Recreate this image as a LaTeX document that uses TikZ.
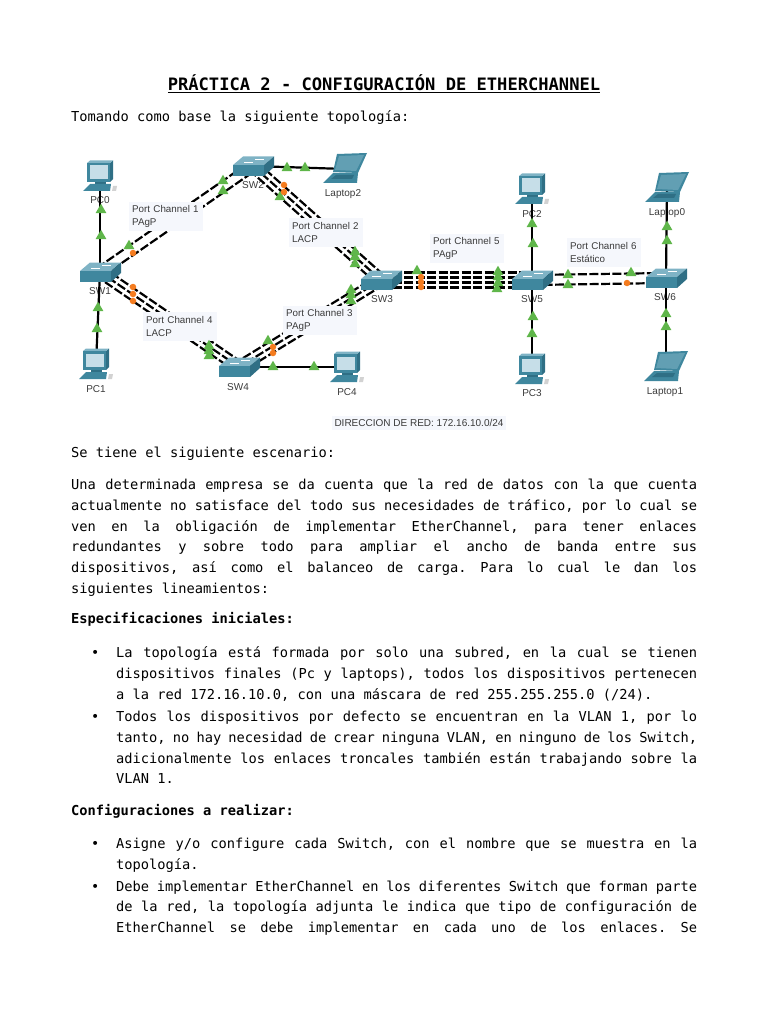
\documentclass[tikz,border=0pt]{standalone}
\usepackage{fontspec}
\setmainfont{Liberation Sans}
\newfontfamily\pagefont{DejaVu Sans Mono}
\usetikzlibrary{calc,shapes.geometric}
\definecolor{teal1}{HTML}{3F879E}
\definecolor{teal2}{HTML}{2F6F85}
\definecolor{teal3}{HTML}{7FB3C5}
\definecolor{teal4}{HTML}{629FB3}
\definecolor{screen1}{HTML}{C6DEE8}
\definecolor{lightgreen1}{HTML}{5FB64A}
\definecolor{lightorange1}{HTML}{F57C1F}
\definecolor{notefill}{HTML}{F5F7FC}
\definecolor{labeltext}{HTML}{3A3A3A}
\tikzset{
  textline/.style={anchor=base west,inner sep=0pt,yshift=-1pt,font=\pagefont\fontsize{13.7}{16}\selectfont},
  headline/.style={textline,font=\pagefont\bfseries\fontsize{13.7}{16}\selectfont},
  devlabel/.style={inner sep=0pt,text=labeltext,font=\fontsize{10}{12}\selectfont},
  notebox/.style={fill=notefill,anchor=north west,align=left,inner xsep=3pt,inner ysep=0pt,text=labeltext,
    minimum height=29pt,font=\fontsize{9.8}{12.6}\selectfont,text width=68pt},
  cable/.style={line width=2.2pt,black},
  trunk/.style={line width=2.2pt,black,dash pattern=on 9pt off 2.5pt},
  uplight/.style={regular polygon,regular polygon sides=3,fill=lightgreen1,minimum size=12.5pt,inner sep=0pt},
  waitlight/.style={circle,fill=lightorange1,minimum size=6.5pt,inner sep=0pt},
  pcicon/.pic={
    \fill[teal2] (10,-13) -- (13,-15.5) -- (13,3) -- (10,6) -- cycle;
    \fill[teal3] (-13,-13) -- (-10,-15.5) -- (13,-15.5) -- (10,-13) -- cycle;
    \fill[teal1] (-13,-13) rectangle (10,6);
    \fill[screen1] (-10,-10.5) rectangle (8,3);
    \fill[teal2] (-5,6) rectangle (6,8);
    \fill[teal1] (-10,8) -- (11,8) -- (10,15) -- (-17,15) -- cycle;
    \fill[gray!35] (13,10) -- (17,10) -- (16,15) -- (12,15) -- cycle;
  },
  laptopicon/.pic={
    \fill[teal1] (-8,-15) -- (22,-16) -- (13,4) -- (-12,3) -- cycle;
    \fill[teal4] (-6,-13) -- (19,-14) -- (11,2) -- (-10,1) -- cycle;
    \fill[teal1] (-12,4) -- (13,4) -- (12,14) -- (-22,14) -- cycle;
    \fill[teal2] (-9,6) -- (9,6) -- (7,10) -- (-14,10) -- cycle;
  },
  switchicon/.pic={
    \fill[teal3] (-20,-1) -- (-10,-9.5) -- (21,-9.5) -- (11,-1) -- cycle;
    \fill[teal1] (-20,-1) rectangle (11,10);
    \fill[teal2] (11,-1) -- (21,-9.5) -- (21,1) -- (11,10) -- cycle;
    \draw[white,line width=.5pt] (-9,-4) -- (0,-4) (2,-6.5) -- (11,-6.5);
  }
}
\newcommand{\trunklinks}[3]{%
  \foreach \o in {#3}
    \draw[trunk] ($(#1)!\o pt!90:(#2)$) -- ($(#2)!\o pt!-90:(#1)$);
}
\newcommand{\fitline}[2]{\hbox to #1{\frenchspacing\spaceskip=8.2pt plus 1fil minus 2pt\relax #2}}

\begin{document}
\begin{tikzpicture}[x=1pt,y=-1pt]
  \useasboundingbox (0,0) rectangle (768,1024);

  % page text
  \node[anchor=base,inner sep=0pt,font=\pagefont\bfseries\fontsize{17.1}{20}\selectfont] (title) at (384,91)
    {\underline{PRÁCTICA 2 - CONFIGURACIÓN DE ETHERCHANNEL}};
  \node[textline] (intro) at (71,121) {Tomando como base la siguiente topología:};
  \node[textline] (escenario) at (71,456) {Se tiene el siguiente escenario:};
  \node[textline] (p1) at (71,488) {\fitline{626pt}{Una determinada empresa se da cuenta que la red de datos con la que cuenta}};
  \node[textline] (p2) at (71,509) {\fitline{626pt}{actualmente no satisface del todo sus necesidades de tráfico, por lo cual se}};
  \node[textline] (p3) at (71,530) {\fitline{626pt}{ven en la obligación de implementar EtherChannel, para tener enlaces}};
  \node[textline] (p4) at (71,550) {\fitline{626pt}{redundantes y sobre todo para ampliar el ancho de banda entre sus}};
  \node[textline] (p5) at (71,571) {\fitline{626pt}{dispositivos, así como el balanceo de carga. Para lo cual le dan los}};
  \node[textline] (p6) at (71,592) {siguientes lineamientos:};
  \node[headline] (espec) at (71,622) {Especificaciones iniciales:};
  \node[textline] (dot1) at (91,656) {•};
  \node[textline] (e1) at (116,656) {\fitline{581pt}{La topología está formada por solo una subred, en la cual se tienen}};
  \node[textline] (e2) at (116,677) {\fitline{581pt}{dispositivos finales (Pc y laptops), todos los dispositivos pertenecen}};
  \node[textline] (e3) at (116,698) {a la red 172.16.10.0, con una máscara de red 255.255.255.0 (/24).};
  \node[textline] (dot2) at (91,720) {•};
  \node[textline] (e4) at (116,720) {\fitline{581pt}{Todos los dispositivos por defecto se encuentran en la VLAN 1, por lo}};
  \node[textline] (e5) at (116,741) {\fitline{581pt}{tanto, no hay necesidad de crear ninguna VLAN, en ninguno de los Switch,}};
  \node[textline] (e6) at (116,762) {\fitline{581pt}{adicionalmente los enlaces troncales también están trabajando sobre la}};
  \node[textline] (e7) at (116,782) {VLAN 1.};
  \node[headline] (config) at (71,814) {Configuraciones a realizar:};
  \node[textline] (dot3) at (91,847) {•};
  \node[textline] (c1) at (116,847) {\fitline{581pt}{Asigne y/o configure cada Switch, con el nombre que se muestra en la}};
  \node[textline] (c2) at (116,868) {topología.};
  \node[textline] (dot4) at (91,890) {•};
  \node[textline] (c3) at (116,890) {\fitline{581pt}{Debe implementar EtherChannel en los diferentes Switch que forman parte}};
  \node[textline] (c4) at (116,910) {\fitline{581pt}{de la red, la topología adjunta le indica que tipo de configuración de}};
  \node[textline] (c5) at (116,931) {\fitline{581pt}{EtherChannel se debe implementar en cada uno de los enlaces. Se}};

  % devices
  \coordinate (pc0) at (100,176);
  \coordinate (pc1) at (96,364);
  \coordinate (pc2) at (532,189);
  \coordinate (pc3) at (532,369);
  \coordinate (pc4) at (347,367);
  \coordinate (lap0) at (667,188);
  \coordinate (lap1) at (666,367);
  \coordinate (lap2) at (345,169);
  \coordinate (sw1) at (100,272);
  \coordinate (sw2) at (253,166);
  \coordinate (sw3) at (381,280);
  \coordinate (sw4) at (239,367);
  \coordinate (sw5) at (532,280);
  \coordinate (sw6) at (666,278);

  \node[devlabel] (pc0lab) at (100,200) {PC0};
  \node[devlabel] (pc1lab) at (96,389) {PC1};
  \node[devlabel] (pc2lab) at (532,214) {PC2};
  \node[devlabel] (pc3lab) at (532,393) {PC3};
  \node[devlabel] (pc4lab) at (347,392) {PC4};
  \node[devlabel] (lap0lab) at (667,213) {Laptop0};
  \node[devlabel] (lap1lab) at (665,392) {Laptop1};
  \node[devlabel] (lap2lab) at (343,194) {Laptop2};
  \node[devlabel] (sw1lab) at (100,291) {SW1};
  \node[devlabel] (sw2lab) at (253,185) {SW2};
  \node[devlabel] (sw3lab) at (382,299) {SW3};
  \node[devlabel] (sw4lab) at (238,387) {SW4};
  \node[devlabel] (sw5lab) at (532,299) {SW5};
  \node[devlabel] (sw6lab) at (665,297) {SW6};

  % links
  \draw[cable] (pc0) -- (sw1);
  \draw[cable] (pc1) -- (sw1);
  \draw[cable] (pc2) -- (sw5);
  \draw[cable] (pc3) -- (sw5);
  \draw[cable] (pc4) -- (sw4);
  \draw[cable] (lap0) -- (sw6);
  \draw[cable] (lap1) -- (sw6);
  \draw[cable] (lap2) -- (sw2);
  \trunklinks{sw1}{sw2}{-5,5}
  \trunklinks{sw2}{sw3}{-5.5,0,5.5}
  \trunklinks{sw3}{sw4}{-5.5,0,5.5}
  \trunklinks{sw4}{sw1}{-5.5,0,5.5}
  \trunklinks{sw3}{sw5}{-7.5,-2.5,2.5,7.5}
  \trunklinks{sw5}{sw6}{-5,5}

  % port channel notes
  \node[notebox] (note1) at (129,202) {Port Channel 1\\PAgP};
  \node[notebox] (note2) at (289,218) {Port Channel 2\\LACP};
  \node[notebox] (note3) at (283,306) {Port Channel 3\\PAgP};
  \node[notebox] (note4) at (143,312) {Port Channel 4\\LACP};
  \node[notebox] (note5) at (430,234) {Port Channel 5\\PAgP};
  \node[notebox] (note6) at (567,238) {Port Channel 6\\Estático};
  \node[fill=notefill,inner xsep=3pt,inner ysep=3pt,text=labeltext,font=\fontsize{10}{12}\selectfont] (red) at (419,423) {DIRECCION DE RED: 172.16.10.0/24};

  % icons
  \foreach \d in {pc0,pc1,pc2,pc3,pc4}
    \pic at (\d) {pcicon};
  \foreach \d in {lap0,lap1,lap2}
    \pic at (\d) {laptopicon};
  \foreach \d in {sw1,sw2,sw3,sw4,sw5,sw6}
    \pic at (\d) {switchicon};

  % link lights
  \foreach \x/\y [count=\i] in {223/181,223/191,129/246,101/210,101/236,98/308,97/329,
    209/346,209/351,209/356,280/197,287/168,305/168,355/252,355/257,355/264,351/290,351/295,351/301,
    268/341,273/367,314/367,417/271,498/272,498/277,498/283,497/289,532/224,533/244,533/317,532/334,
    568/275,568/285,631/273,667/227,667/241,666/314,666/327}
    \node[uplight] (up\i) at (\x,\y) {};
  \foreach \x/\y [count=\i] in {133/253,133/287,133/294,133/301,284/185,284/192,273/347,273/353,
    421/277,421/282,421/287,627/283}
    \node[waitlight] (wait\i) at (\x,\y) {};
\end{tikzpicture}
\end{document}
